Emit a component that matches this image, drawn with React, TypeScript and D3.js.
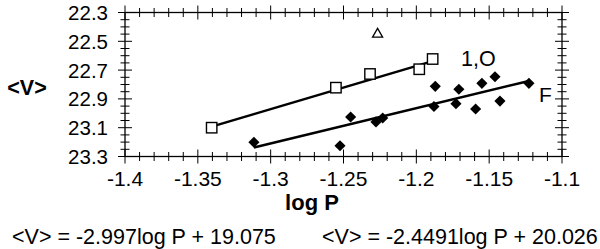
import React, { useEffect, useRef } from 'react';
import * as d3 from 'd3';

// log P and <V>
const overtoneLogP = [-1.3405, -1.2552, -1.2318, -1.198, -1.1888];
const overtoneV = [23.1, 22.822, 22.727, 22.694, 22.623];

const fundamentalLogP = [-1.3115, -1.2524, -1.2451, -1.2277, -1.2231, -1.187, -1.1879, -1.1708, -1.1728, -1.1593, -1.155, -1.146, -1.1426, -1.1227];
const fundamentalV = [23.201, 23.225, 23.026, 23.06, 23.033, 22.813, 22.953, 22.833, 22.933, 22.97, 22.792, 22.746, 22.915, 22.792];

const otherLogP = [-1.2266];
const otherV = [22.451];

// fitted lines: V = slope * logP + intercept
const fits = [
  { slope: -2.997, intercept: 19.075, from: -1.3405, to: -1.1888 },
  { slope: -2.4491, intercept: 20.026, from: -1.3115, to: -1.1227 },
];

const xTickLabels = [-1.4, -1.35, -1.3, -1.25, -1.2, -1.15, -1.1];
const yTickLabels = [22.3, 22.5, 22.7, 22.9, 23.1, 23.3];
const equations = ['<V> = -2.997log P + 19.075', '<V> = -2.4491log P + 20.026'];

const W = 600;
const H = 249;
const FONT = '"Liberation Sans", Arial, Helvetica, sans-serif';

export default function App() {
  const svgRef = useRef<SVGSVGElement>(null);

  useEffect(() => {
    const svg = d3.select(svgRef.current);
    svg.selectAll('*').remove();

    const x = d3.scaleLinear().domain([-1.4, -1.1]).range([125, 562]);
    const y = d3.scaleLinear().domain([22.3, 23.3]).range([12.5, 156.5]);
    const [x0, x1] = x.range();
    const [y0, y1] = y.range();

    const g = svg.append('g');

    // frame
    g.append('rect')
      .attr('x', x0).attr('y', y0)
      .attr('width', x1 - x0).attr('height', y1 - y0)
      .attr('fill', 'none').attr('stroke', '#000').attr('stroke-width', 1.3);

    // ticks on all four sides, crossing the frame
    const xMinor = d3.range(0, 31).map(i => -1.4 + i * 0.01);
    xMinor.forEach((v, i) => {
      const len = i % 5 === 0 ? 7 : 4.5;
      [y0, y1].forEach(yy => {
        g.append('line')
          .attr('x1', x(v)).attr('x2', x(v))
          .attr('y1', yy - len).attr('y2', yy + len)
          .attr('stroke', '#000').attr('stroke-width', 1);
      });
    });
    const yMinor = d3.range(0, 21).map(i => 22.3 + i * 0.05);
    yMinor.forEach((v, i) => {
      const len = i % 4 === 0 ? 7 : 4.5;
      [x0, x1].forEach(xx => {
        g.append('line')
          .attr('x1', xx - len).attr('x2', xx + len)
          .attr('y1', y(v)).attr('y2', y(v))
          .attr('stroke', '#000').attr('stroke-width', 1);
      });
    });

    // tick labels
    g.selectAll('.xl').data(xTickLabels).enter().append('text')
      .attr('x', d => x(d)).attr('y', 186)
      .attr('text-anchor', 'middle')
      .attr('font-family', FONT).attr('font-size', 21)
      .text(d => String(d));
    g.selectAll('.yl').data(yTickLabels).enter().append('text')
      .attr('x', 108).attr('y', d => y(d) + 7.5)
      .attr('text-anchor', 'end')
      .attr('font-family', FONT).attr('font-size', 20.5)
      .text(d => d.toFixed(1));

    // axis titles
    g.append('text').attr('x', 312).attr('y', 210)
      .attr('text-anchor', 'middle')
      .attr('font-family', FONT).attr('font-size', 22).attr('font-weight', 'bold')
      .text('log P');
    g.append('text').attr('x', 27).attr('y', 95)
      .attr('text-anchor', 'middle')
      .attr('font-family', FONT).attr('font-size', 21.5).attr('font-weight', 'bold')
      .text('<V>');

    // fit lines
    const line = d3.line<number>().x(d => x(d[0])).y(d => y(d[1]));
    fits.forEach(f => {
      const pts = [f.from, f.to].map(lp => [lp, f.slope * lp + f.intercept]);
      g.append('path')
        .attr('d', line(pts as any))
        .attr('fill', 'none').attr('stroke', '#000').attr('stroke-width', 2.5);
    });

    // open squares
    g.selectAll('.sq').data(overtoneLogP).enter().append('rect')
      .attr('x', d => x(d) - 5.2)
      .attr('y', (d, i) => y(overtoneV[i]) - 5.2)
      .attr('width', 10.4).attr('height', 10.4)
      .attr('fill', '#fff').attr('stroke', '#000').attr('stroke-width', 1.4);

    // filled diamonds
    const diamond = d3.symbol().type(d3.symbolSquare).size(62);
    g.selectAll('.dm').data(fundamentalLogP).enter().append('path')
      .attr('d', diamond() as string)
      .attr('transform', (d, i) => `translate(${x(d)},${y(fundamentalV[i])}) rotate(45)`)
      .attr('fill', '#000');

    // open triangle
    const tri = d3.symbol().type(d3.symbolTriangle).size(44);
    g.selectAll('.tr').data(otherLogP).enter().append('path')
      .attr('d', tri() as string)
      .attr('transform', (d, i) => `translate(${x(d)},${y(otherV[i])})`)
      .attr('fill', '#fff').attr('stroke', '#000').attr('stroke-width', 1.3);

    // series labels
    g.append('text').attr('x', 461).attr('y', 66)
      .attr('font-family', FONT).attr('font-size', 21.5)
      .text('1,O');
    g.append('text').attr('x', 539).attr('y', 102)
      .attr('font-family', FONT).attr('font-size', 21)
      .text('F');

    // regression equations
    g.selectAll('.eq').data(equations).enter().append('text')
      .attr('x', (d, i) => (i === 0 ? 12 : 322)).attr('y', 244)
      .attr('font-family', FONT).attr('font-size', 21.5)
      .text(d => d);
  }, []);

  return (
    <svg
      ref={svgRef}
      width={W}
      height={H}
      style={{ position: 'absolute', left: 0, top: 0, background: '#fff' }}
    />
  );
}
